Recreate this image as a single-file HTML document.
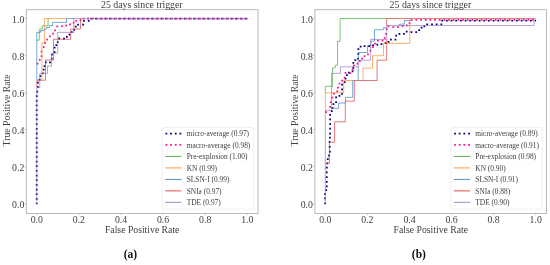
<!DOCTYPE html>
<html><head><meta charset="utf-8"><title>ROC curves</title>
<style>
html,body{margin:0;padding:0;background:#fff;}
svg{display:block;}
text{font-family:"Liberation Serif","DejaVu Serif",serif;fill:#404040;}
.tk{font-size:9.8px;}
.lb{font-size:9.3px;}
.lg{font-size:7.4px;}
.cap{font-size:11.5px;font-weight:bold;fill:#111;}
</style></head><body>
<svg width="550" height="265" viewBox="0 0 550 265">
<rect width="550" height="265" fill="#fff"/>
<rect x="26.3" y="9.7" width="231.7" height="203.7" fill="#fff" stroke="#a9a9a9" stroke-width="0.8"/>
<line x1="36.8" y1="213.4" x2="36.8" y2="215.0" stroke="#a9a9a9" stroke-width="0.7"/>
<line x1="26.3" y1="203.9" x2="24.7" y2="203.9" stroke="#a9a9a9" stroke-width="0.7"/>
<text class="tk" x="36.8" y="222.7" text-anchor="middle">0.0</text>
<text class="tk" x="24.3" y="208.2" text-anchor="end">0.0</text>
<line x1="78.9" y1="213.4" x2="78.9" y2="215.0" stroke="#a9a9a9" stroke-width="0.7"/>
<line x1="26.3" y1="166.8" x2="24.7" y2="166.8" stroke="#a9a9a9" stroke-width="0.7"/>
<text class="tk" x="78.9" y="222.7" text-anchor="middle">0.2</text>
<text class="tk" x="24.3" y="171.1" text-anchor="end">0.2</text>
<line x1="121.0" y1="213.4" x2="121.0" y2="215.0" stroke="#a9a9a9" stroke-width="0.7"/>
<line x1="26.3" y1="129.7" x2="24.7" y2="129.7" stroke="#a9a9a9" stroke-width="0.7"/>
<text class="tk" x="121.0" y="222.7" text-anchor="middle">0.4</text>
<text class="tk" x="24.3" y="134.0" text-anchor="end">0.4</text>
<line x1="163.1" y1="213.4" x2="163.1" y2="215.0" stroke="#a9a9a9" stroke-width="0.7"/>
<line x1="26.3" y1="92.7" x2="24.7" y2="92.7" stroke="#a9a9a9" stroke-width="0.7"/>
<text class="tk" x="163.1" y="222.7" text-anchor="middle">0.6</text>
<text class="tk" x="24.3" y="97.0" text-anchor="end">0.6</text>
<line x1="205.2" y1="213.4" x2="205.2" y2="215.0" stroke="#a9a9a9" stroke-width="0.7"/>
<line x1="26.3" y1="55.6" x2="24.7" y2="55.6" stroke="#a9a9a9" stroke-width="0.7"/>
<text class="tk" x="205.2" y="222.7" text-anchor="middle">0.8</text>
<text class="tk" x="24.3" y="59.9" text-anchor="end">0.8</text>
<line x1="247.3" y1="213.4" x2="247.3" y2="215.0" stroke="#a9a9a9" stroke-width="0.7"/>
<line x1="26.3" y1="18.5" x2="24.7" y2="18.5" stroke="#a9a9a9" stroke-width="0.7"/>
<text class="tk" x="247.3" y="222.7" text-anchor="middle">1.0</text>
<text class="tk" x="24.3" y="22.8" text-anchor="end">1.0</text>
<text class="lb" x="141.8" y="7.5" text-anchor="middle" textLength="81.6" lengthAdjust="spacingAndGlyphs">25 days since trigger</text>
<text class="lb" x="142.2" y="232.6" text-anchor="middle" textLength="74.5" lengthAdjust="spacingAndGlyphs">False Positive Rate</text>
<text class="lb" transform="translate(9.8,110.4) rotate(-90)" text-anchor="middle" textLength="72" lengthAdjust="spacingAndGlyphs">True Positive Rate</text>
<line x1="36.7" y1="204.2" x2="36.7" y2="93.6" stroke="#000080" stroke-width="1.75" stroke-dasharray="1.76 2.91" stroke-dashoffset="0.23"/>
<path d="M37.29 91.5h0.02M37.89 87.2h0.02M37.89 82.7h0.02M39.59 79.5h0.02M40.49 76.1h0.02M42.79 73.4h0.02M43.69 69.7h0.02M44.59 66.1h0.02M45.79 62.4h0.02M49.99 62.3h0.02M51.79 58.7h0.02M51.79 54.5h0.02M54.59 52.2h0.02M54.59 47.7h0.02M56.29 45.1h0.02M57.69 42.2h0.02M59.19 38.4h0.02M63.99 38.5h0.02M66.89 36.8h0.02M69.49 34.7h0.02M71.79 32.1h0.02M74.09 29.9h0.02M75.69 26.7h0.02M77.99 24.6h0.02M83.19 24.6h0.02M83.99 20.8h0.02M88.69 20.8h0.02" fill="none" stroke="#000080" stroke-width="1.75" stroke-linecap="square"/>
<line x1="90.4" y1="18.7" x2="247.6" y2="18.7" stroke="#000080" stroke-width="1.75" stroke-dasharray="1.76 2.91" stroke-dashoffset="4.65"/>
<path d="M37.59 63.5h0.02M39.69 59.9h0.02M41.59 56.2h0.02M41.59 51.7h0.02M43.69 47h0.02M44.99 42.8h0.02M47.09 39.5h0.02M49.89 36.3h0.02M53.09 33.7h0.02M54.99 30.4h0.02M57.29 26.4h0.02M61.99 26.2h0.02M66.19 25.5h0.02M69.99 24.4h0.02M73.59 22.7h0.02M76.19 20.8h0.02M80.49 20.1h0.02M83.49 18.6h0.02M87.99 18.7h0.02" fill="none" stroke="#ff1493" stroke-width="1.75" stroke-linecap="square"/>
<line x1="91" y1="18.7" x2="247.6" y2="18.7" stroke="#ff1493" stroke-width="1.75" stroke-dasharray="1.76 2.91" stroke-dashoffset="3.65"/>
<path d="M36.8 40.2L39.3 40.2L39.3 29.2L42.2 29.2L42.2 25.8L48.1 25.8L48.1 18.5" fill="none" stroke="#2ca02c" stroke-width="0.62" stroke-linejoin="miter"/>
<path d="M41.9 80.3L41.9 43L44.4 43L44.4 30.6M44.4 29.2L44.4 18.5L66.5 18.5" fill="none" stroke="#ff7f0e" stroke-width="0.62" stroke-linejoin="miter"/>
<path d="M36.8 80.2L36.8 32.4L40.5 32.4L40.5 30.6L44.2 30.6L44.2 29.2L46.4 29.2L46.4 27.5L49.5 27.5L49.5 25.5L52.6 25.5L52.6 22.4L66.5 22.4L66.5 18.5L73.8 18.5" fill="none" stroke="#1f77b4" stroke-width="0.62" stroke-linejoin="miter"/>
<path d="M36.8 87.6L36.8 80.2L45.5 80.2L45.5 60L53.5 60L53.5 39.3L70.7 39.3L70.7 29L80.6 29L80.6 18.5" fill="none" stroke="#d62728" stroke-width="0.62" stroke-linejoin="miter"/>
<path d="M36.8 203.9L36.8 87.6L39.8 87.6L39.8 73.4L47.5 73.4L47.5 66.2L51.5 66.2L51.5 53.2L57.7 53.2L57.7 32.4L73.8 32.4L73.8 18.5L247.3 18.5" fill="none" stroke="#9467bd" stroke-width="0.62" stroke-linejoin="miter"/>
<rect x="162.3" y="127.5" width="91.3" height="81.6" rx="1.2" fill="#fff" fill-opacity="0.8" stroke="#e6e6e6" stroke-width="0.6"/>
<line x1="165.5" y1="133.50" x2="181.5" y2="133.50" stroke="#000080" stroke-width="1.75" stroke-dasharray="1.76 2.91"/>
<text class="lg" x="186.7" y="136.30">micro-average (0.97)</text>
<line x1="165.5" y1="144.97" x2="181.5" y2="144.97" stroke="#ff1493" stroke-width="1.75" stroke-dasharray="1.76 2.91"/>
<text class="lg" x="186.7" y="147.78">macro-average (0.98)</text>
<line x1="165.2" y1="156.45" x2="181.5" y2="156.45" stroke="#2ca02c" stroke-width="0.8"/>
<text class="lg" x="186.7" y="159.25">Pre-explosion (1.00)</text>
<line x1="165.2" y1="167.93" x2="181.5" y2="167.93" stroke="#ff7f0e" stroke-width="0.8"/>
<text class="lg" x="186.7" y="170.73">KN (0.99)</text>
<line x1="165.2" y1="179.40" x2="181.5" y2="179.40" stroke="#1f77b4" stroke-width="0.8"/>
<text class="lg" x="186.7" y="182.20">SLSN-I (0.99)</text>
<line x1="165.2" y1="190.88" x2="181.5" y2="190.88" stroke="#d62728" stroke-width="0.8"/>
<text class="lg" x="186.7" y="193.68">SNIa (0.97)</text>
<line x1="165.2" y1="202.35" x2="181.5" y2="202.35" stroke="#9467bd" stroke-width="0.8"/>
<text class="lg" x="186.7" y="205.15">TDE (0.97)</text>
<text class="cap" x="130.5" y="257.5" text-anchor="middle">(a)</text>
<rect x="314.9" y="9.7" width="231.7" height="203.7" fill="#fff" stroke="#a9a9a9" stroke-width="0.8"/>
<line x1="325.3" y1="213.4" x2="325.3" y2="215.0" stroke="#a9a9a9" stroke-width="0.7"/>
<line x1="314.9" y1="203.9" x2="313.29999999999995" y2="203.9" stroke="#a9a9a9" stroke-width="0.7"/>
<text class="tk" x="325.3" y="222.7" text-anchor="middle">0.0</text>
<text class="tk" x="312.9" y="208.2" text-anchor="end">0.0</text>
<line x1="367.4" y1="213.4" x2="367.4" y2="215.0" stroke="#a9a9a9" stroke-width="0.7"/>
<line x1="314.9" y1="166.8" x2="313.29999999999995" y2="166.8" stroke="#a9a9a9" stroke-width="0.7"/>
<text class="tk" x="367.4" y="222.7" text-anchor="middle">0.2</text>
<text class="tk" x="312.9" y="171.1" text-anchor="end">0.2</text>
<line x1="409.5" y1="213.4" x2="409.5" y2="215.0" stroke="#a9a9a9" stroke-width="0.7"/>
<line x1="314.9" y1="129.7" x2="313.29999999999995" y2="129.7" stroke="#a9a9a9" stroke-width="0.7"/>
<text class="tk" x="409.5" y="222.7" text-anchor="middle">0.4</text>
<text class="tk" x="312.9" y="134.0" text-anchor="end">0.4</text>
<line x1="451.5" y1="213.4" x2="451.5" y2="215.0" stroke="#a9a9a9" stroke-width="0.7"/>
<line x1="314.9" y1="92.7" x2="313.29999999999995" y2="92.7" stroke="#a9a9a9" stroke-width="0.7"/>
<text class="tk" x="451.5" y="222.7" text-anchor="middle">0.6</text>
<text class="tk" x="312.9" y="97.0" text-anchor="end">0.6</text>
<line x1="493.6" y1="213.4" x2="493.6" y2="215.0" stroke="#a9a9a9" stroke-width="0.7"/>
<line x1="314.9" y1="55.6" x2="313.29999999999995" y2="55.6" stroke="#a9a9a9" stroke-width="0.7"/>
<text class="tk" x="493.6" y="222.7" text-anchor="middle">0.8</text>
<text class="tk" x="312.9" y="59.9" text-anchor="end">0.8</text>
<line x1="535.7" y1="213.4" x2="535.7" y2="215.0" stroke="#a9a9a9" stroke-width="0.7"/>
<line x1="314.9" y1="18.5" x2="313.29999999999995" y2="18.5" stroke="#a9a9a9" stroke-width="0.7"/>
<text class="tk" x="535.7" y="222.7" text-anchor="middle">1.0</text>
<text class="tk" x="312.9" y="22.8" text-anchor="end">1.0</text>
<text class="lb" x="430.4" y="7.5" text-anchor="middle" textLength="81.6" lengthAdjust="spacingAndGlyphs">25 days since trigger</text>
<text class="lb" x="430.8" y="232.6" text-anchor="middle" textLength="74.5" lengthAdjust="spacingAndGlyphs">False Positive Rate</text>
<text class="lb" transform="translate(298.4,110.4) rotate(-90)" text-anchor="middle" textLength="72" lengthAdjust="spacingAndGlyphs">True Positive Rate</text>
<path d="M325.09 203.4h0.02M325.04 198.3h0.02M325.04 194.1h0.02M326.19 190.2h0.02M326.74 186.4h0.02M326.74 181.8h0.02M326.74 177.1h0.02M326.74 172.3h0.02M326.79 167.5h0.02M327.29 163.3h0.02M327.79 159.2h0.02M328.99 155.7h0.02M329.89 151.7h0.02M329.69 146.8h0.02M329.59 141.9h0.02M329.89 137.6h0.02M330.14 133.5h0.02M330.14 128.7h0.02M330.14 124h0.02M330.09 119.3h0.02M330.09 114.8h0.02M331.79 111.2h0.02M332.49 107.8h0.02M333.49 104.1h0.02M336.09 102h0.02M336.09 97.3h0.02M339.49 95.9h0.02M341.99 93.8h0.02M342.09 89.4h0.02M342.09 84.5h0.02M344.69 82.2h0.02M345.49 78.7h0.02M346.89 75.1h0.02M348.89 72.5h0.02M352.59 71.4h0.02M353.29 67.8h0.02M353.29 62.8h0.02M355.29 60.1h0.02M358.09 58.5h0.02M358.39 53.9h0.02M358.39 49.2h0.02M360.59 46.6h0.02M364.59 46h0.02M369.09 46h0.02M373.09 45.3h0.02M377.29 44.6h0.02M381.39 44h0.02M385.49 43.1h0.02M388.49 41.8h0.02M390.89 39.7h0.02M395.39 39.7h0.02M396.09 35.6h0.02M399.39 33.9h0.02M403.99 33.9h0.02M406.69 31.7h0.02M411.39 32.1h0.02M416.19 32.1h0.02M419.09 30h0.02M421.59 27.7h0.02M424.39 26.3h0.02M427.19 24.3h0.02M431.99 24.3h0.02M436.69 24.3h0.02M441.29 24.3h0.02" fill="none" stroke="#000080" stroke-width="1.75" stroke-linecap="square"/>
<line x1="441.3" y1="20.6" x2="536.1" y2="20.6" stroke="#000080" stroke-width="1.75" stroke-dasharray="1.76 2.91" stroke-dashoffset="4.65"/>
<path d="M326.19 112h0.02M330.09 106.9h0.02M330.79 102.1h0.02M332.39 97.7h0.02M334.09 93.7h0.02M337.19 91.4h0.02M338.09 87.7h0.02M339.49 83.7h0.02M342.09 80.5h0.02M344.69 77.6h0.02M345.49 72.8h0.02M350.29 73.1h0.02M352.59 69.9h0.02M353.99 65.3h0.02M357.49 63.6h0.02M359.89 61.2h0.02M362.09 58.5h0.02M364.59 56.2h0.02M367.99 54.3h0.02M370.39 50.5h0.02M372.89 47h0.02M375.09 43.7h0.02M377.89 40.6h0.02M382.49 40.6h0.02M384.69 37.8h0.02M386.09 33.8h0.02M386.69 29.2h0.02M388.49 26.4h0.02M393.29 27h0.02M397.99 27h0.02M402.59 26.2h0.02M406.89 25.4h0.02M409.49 23.2h0.02M411.69 20.1h0.02" fill="none" stroke="#ff1493" stroke-width="1.75" stroke-linecap="square"/>
<line x1="415.4" y1="19.9" x2="536.1" y2="19.9" stroke="#ff1493" stroke-width="1.75" stroke-dasharray="1.76 2.91" stroke-dashoffset="4.65"/>
<path d="M325.3 92.8L325.3 86.3L332.6 86.3L332.6 67.8L335.3 67.8L335.3 65.2L337.5 65.2L337.5 41.3L340.1 41.3L340.1 18.5L386.7 18.5" fill="none" stroke="#2ca02c" stroke-width="0.62" stroke-linejoin="miter"/>
<path d="M325.3 110.3L325.3 92.8L343.7 92.8L343.7 80.5L352.7 80.5M363 80.5L363 68.2L372.5 68.2L372.5 55.7L383.5 55.7L383.5 43.4L409.8 43.4L409.8 20.5" fill="none" stroke="#ff7f0e" stroke-width="0.62" stroke-linejoin="miter"/>
<path d="M331.5 108.3L338.7 108.3L338.7 103L345.5 103M345.5 101.2L345.5 97.4L352.7 97.4L352.7 80.5L354.3 80.5M358.2 80.5L358.2 66.8M358.2 60.2L358.2 52.5L367.5 52.5L367.5 45.7L371 45.7L371 41.2L374.5 41.2L374.5 29.7L383.4 29.7L383.4 27.8L386.7 27.8M399.2 25.5L399.2 24.2L404.3 24.2L404.3 20.5L410 20.5L410 18.5" fill="none" stroke="#1f77b4" stroke-width="0.62" stroke-linejoin="miter"/>
<path d="M325.3 163.3L329.4 163.3L329.4 142.2L334.6 142.2L334.6 121.8L345.3 121.8L345.3 101.2L354.3 101.2L354.3 80.5L377.1 80.5L377.1 60.2L386.7 60.2L386.7 39.4M386.7 25.5L386.7 18.5L534 18.5" fill="none" stroke="#d62728" stroke-width="0.62" stroke-linejoin="miter"/>
<path d="M325.3 203.9L325.3 110.3L331.5 110.3L331.5 73.4L340.4 73.4L340.4 66.8L358.2 66.8L358.2 60.2L370.6 60.2L370.6 39.4L386.7 39.4L386.7 25.5L534 25.5L534 18.5L535.7 18.5" fill="none" stroke="#9467bd" stroke-width="0.62" stroke-linejoin="miter"/>
<rect x="450.9" y="127.5" width="91.3" height="81.6" rx="1.2" fill="#fff" fill-opacity="0.8" stroke="#e6e6e6" stroke-width="0.6"/>
<line x1="454.1" y1="133.50" x2="470.1" y2="133.50" stroke="#000080" stroke-width="1.75" stroke-dasharray="1.76 2.91"/>
<text class="lg" x="475.3" y="136.30">micro-average (0.89)</text>
<line x1="454.1" y1="144.97" x2="470.1" y2="144.97" stroke="#ff1493" stroke-width="1.75" stroke-dasharray="1.76 2.91"/>
<text class="lg" x="475.3" y="147.78">macro-average (0.91)</text>
<line x1="453.8" y1="156.45" x2="470.1" y2="156.45" stroke="#2ca02c" stroke-width="0.8"/>
<text class="lg" x="475.3" y="159.25">Pre-explosion (0.98)</text>
<line x1="453.8" y1="167.93" x2="470.1" y2="167.93" stroke="#ff7f0e" stroke-width="0.8"/>
<text class="lg" x="475.3" y="170.73">KN (0.90)</text>
<line x1="453.8" y1="179.40" x2="470.1" y2="179.40" stroke="#1f77b4" stroke-width="0.8"/>
<text class="lg" x="475.3" y="182.20">SLSN-I (0.91)</text>
<line x1="453.8" y1="190.88" x2="470.1" y2="190.88" stroke="#d62728" stroke-width="0.8"/>
<text class="lg" x="475.3" y="193.68">SNIa (0.88)</text>
<line x1="453.8" y1="202.35" x2="470.1" y2="202.35" stroke="#9467bd" stroke-width="0.8"/>
<text class="lg" x="475.3" y="205.15">TDE (0.90)</text>
<text class="cap" x="418.9" y="257.5" text-anchor="middle">(b)</text>
</svg>
</body></html>
